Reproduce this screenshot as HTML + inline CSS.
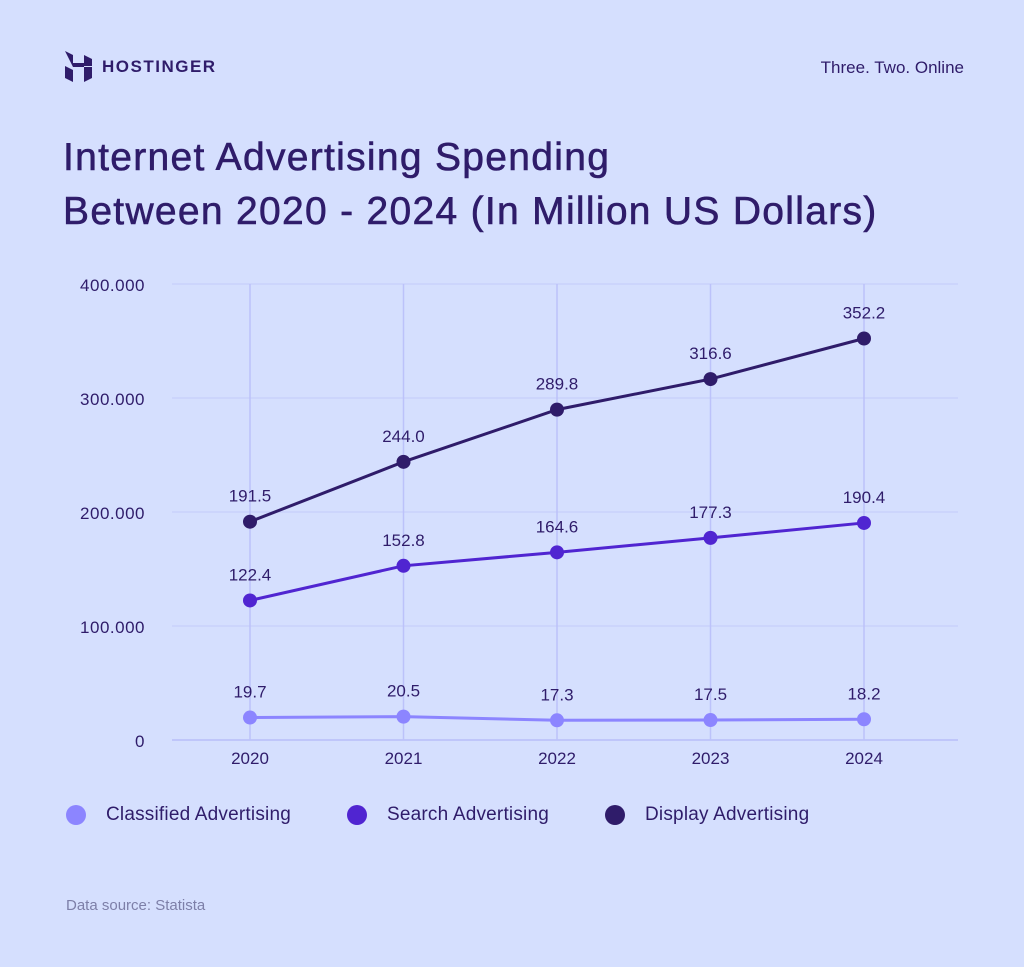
<!DOCTYPE html>
<html><head><meta charset="utf-8"><style>
body{margin:0;width:1024px;height:967px;background:#d5dffe;font-family:"Liberation Sans",sans-serif;color:#2f1c6a;overflow:hidden;position:relative}
.abs{position:absolute}
</style></head><body>
<div class="abs" style="left:65px;top:51px;display:flex;align-items:center">
<svg width="27" height="31" viewBox="0 0 27 31"><path d="M0 0L8 4V12L19 12V4L27 8V16H8Z M0 15H19V31L27 27V15Z" fill="#2f1c6a"/><path d="M0 15V27L8 31V19Z" fill="#2f1c6a"/></svg>
<span style="margin-left:10px;font-weight:bold;font-size:17px;letter-spacing:1.5px">HOSTINGER</span></div>
<div class="abs" style="right:60px;top:58px;font-size:17px">Three. Two. Online</div>
<div class="abs" style="left:63px;top:131px;font-size:39px;line-height:54px;letter-spacing:1.3px;-webkit-text-stroke:0.6px #2f1c6a">Internet Advertising Spending<br>Between 2020 - 2024 (In Million US Dollars)</div>
<svg class="abs" style="left:0;top:0" width="1024" height="967" id="chart"></svg>
<div class="abs" style="left:66px;top:804px;font-size:19px;letter-spacing:0.2px;display:flex;align-items:center">
<span style="width:20px;height:20px;border-radius:50%;background:#8c85ff;display:inline-block"></span><span style="margin-left:20px;margin-right:56px">Classified Advertising</span>
<span style="width:20px;height:20px;border-radius:50%;background:#5025d1;display:inline-block"></span><span style="margin-left:20px;margin-right:56px">Search Advertising</span>
<span style="width:20px;height:20px;border-radius:50%;background:#2f1c6a;display:inline-block"></span><span style="margin-left:20px">Display Advertising</span></div>
<div class="abs" style="left:66px;top:897px;font-size:15px;color:#7d7fa8">Data source: Statista</div>
<script>
const categories=["2020","2021","2022","2023","2024"];
const classified=[19.7,20.5,17.3,17.5,18.2];
const search=[122.4,152.8,164.6,177.3,190.4];
const display=[191.5,244.0,289.8,316.6,352.2];
const yTicks=[0,100,200,300,400];
const yTickLabels=["0","100.000","200.000","300.000","400.000"];
const svg=document.getElementById('chart');const NS="http://www.w3.org/2000/svg";
const x=i=>250+i*153.5;const y=v=>740-v*(456/400);
function mk(t,a,p){const e=document.createElementNS(NS,t);for(const k in a)e.setAttribute(k,a[k]);(p||svg).appendChild(e);return e;}
yTicks.forEach((t,i)=>{
const l=mk('line',{x1:172,x2:958,y1:y(t),y2:y(t),stroke:t===0?'#a9aef5':'#c3cbfa','stroke-width':1});


const tx=mk('text',{x:145,y:y(t)+7,'text-anchor':'end','font-size':17,fill:'#2f1c6a','letter-spacing':0.5});tx.textContent=yTickLabels[i];


});
categories.forEach((c,i)=>{
const l=mk('line',{x1:x(i),x2:x(i),y1:284,y2:740,stroke:'#bcc2fa','stroke-width':1.5});


const tx=mk('text',{x:x(i),y:764,'text-anchor':'middle','font-size':17,fill:'#2f1c6a'});tx.textContent=c;


});
[[classified,'#8c85ff','classified'],[search,'#5025d1','search'],[display,'#2f1c6a','display']].forEach(([d,col,n])=>{
const p=mk('polyline',{points:d.map((v,i)=>x(i)+','+y(v)).join(' '),fill:'none',stroke:col,'stroke-width':3});


d.forEach((v,i)=>{
const c=mk('circle',{cx:x(i),cy:y(v),r:7,fill:col});


const t=mk('text',{x:x(i),y:y(v)-20,'text-anchor':'middle','font-size':17,fill:'#2f1c6a'});t.textContent=v.toFixed(1);


});
});
</script>
</body></html>
